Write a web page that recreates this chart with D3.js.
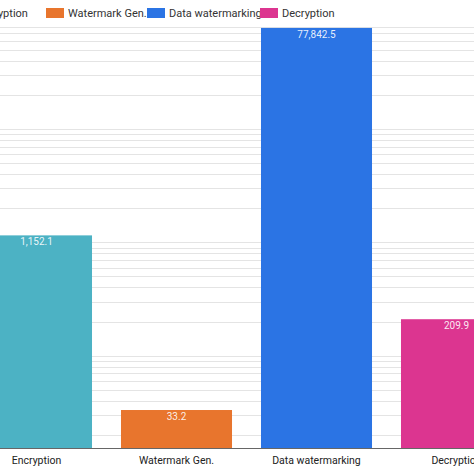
<!DOCTYPE html>
<html><head><meta charset="utf-8">
<script src="https://cdn.jsdelivr.net/npm/d3@7"></script>
<style>body{margin:0;background:#fff}svg{display:block}</style>
</head><body><svg></svg>
<script>
const [WIDTH, HEIGHT] = [474, 474]

const categories = ['Encryption', 'Watermark Gen.', 'Data watermarking', 'Decryption']
const values = [1152.1, 33.2, 77842.5, 209.9]
const colors = ['#4cb2c4', '#e8752d', '#2b74e4', '#dc3590']
const legendStarts = [-46, 46, 147, 260]

const svg = d3.select('svg').attr('width', WIDTH).attr('height', HEIGHT)
    .style('font-family', 'Roboto, Arial, sans-serif')

const y = d3.scaleLog().domain([15.35, 100000]).range([448, 15.6])
const x = d3.scaleBand().domain(categories).range([-33.5, 526.5]).paddingInner(0.207).paddingOuter(0.1035)

// gridlines at 1..9 x 10^k
const grid = []
for (let k = 1; k <= 4; k++) for (let m = 1; m <= 9; m++) {
    const v = m * Math.pow(10, k)
    if (v >= 15.35 && v <= 80000) grid.push(v)
}
svg.append('g').selectAll('line').data(grid).join('line')
    .attr('x1', 0).attr('x2', WIDTH)
    .attr('y1', d => Math.round(y(d)) + 0.5).attr('y2', d => Math.round(y(d)) + 0.5)
    .attr('stroke', '#e4e4e4').attr('stroke-width', 1)

svg.append('g').selectAll('rect').data(values).join('rect')
    .attr('x', (d, i) => x(categories[i]))
    .attr('width', x.bandwidth())
    .attr('y', d => y(d))
    .attr('height', d => 448 - y(d))
    .attr('fill', (d, i) => colors[i])

svg.append('g').selectAll('text').data(values).join('text')
    .attr('x', (d, i) => x(categories[i]) + x.bandwidth() / 2)
    .attr('y', d => y(d) + 10)
    .attr('text-anchor', 'middle').attr('font-size', 10).attr('fill', '#fff')
    .attr('fill-opacity', 0.9)
    .text(d => d3.format(',.1f')(d))

svg.append('line').attr('x1', 0).attr('x2', WIDTH).attr('y1', 448.5).attr('y2', 448.5)
    .attr('stroke', '#666').attr('stroke-width', 1.2)

svg.append('g').selectAll('text').data(categories).join('text')
    .attr('x', d => x(d) + x.bandwidth() / 2)
    .attr('y', 464)
    .attr('text-anchor', 'middle').attr('font-size', 10.5).attr('fill', '#222')
    .text(d => d)

const legend = svg.append('g').selectAll('g').data(categories).join('g')
    .attr('transform', (d, i) => `translate(${legendStarts[i]},8)`)
legend.append('rect').attr('width', 18).attr('height', 10).attr('fill', (d, i) => colors[i])
legend.append('text').attr('x', 22).attr('y', 9).attr('font-size', 11).attr('fill', '#333').text(d => d)
</script></body></html>
